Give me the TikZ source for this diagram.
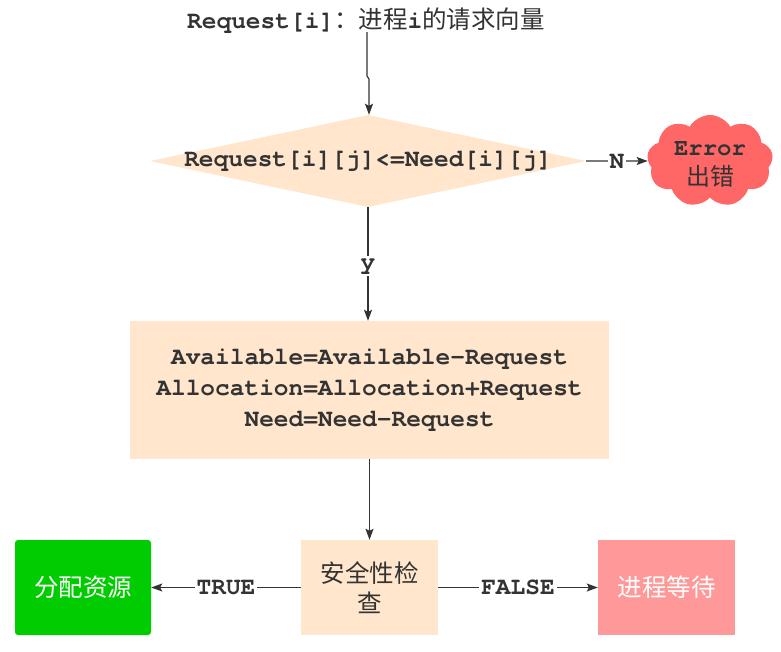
\documentclass[tikz,border=0pt]{standalone}
\usepackage{fontspec}
\setmonofont{texgyrecursor}[Extension=.otf,UprightFont=*-regular,BoldFont=*-bold]
\newfontfamily\cjk{Noto Sans CJK SC}
\usetikzlibrary{shapes.geometric,shapes.symbols,arrows.meta}
\definecolor{peach}{HTML}{FFE6CC}
\definecolor{okgreen}{HTML}{00CC00}
\definecolor{waitpink}{HTML}{FF9999}
\definecolor{errred}{HTML}{FF6666}
\definecolor{ink}{HTML}{333333}
\begin{document}
\begin{tikzpicture}[x=1pt,y=-1pt,
  every node/.style={text=ink},
  mono/.style={font=\fontsize{24.5}{31}\selectfont\ttfamily\bfseries},
  zh/.style={font=\fontsize{24.5}{30}\selectfont\cjk},
  conn/.style={draw=ink,line width=1.2pt},
  arr/.style={conn,-{Stealth[length=11pt,width=8pt,inset=2pt]}},
  lbl/.style={mono,fill=white,inner sep=2pt},
  boxshape/.style={draw=none,inner sep=0pt,align=center}]
\useasboundingbox (0,0) rectangle (781,652);
% title
\node[mono,inner sep=0pt,anchor=center] (title) at (366,21)
  {Request[i]{\cjk\mdseries ：}{\cjk\mdseries 进程}i{\cjk\mdseries 的请求向量}};
% diamond
\node[diamond,fill=peach,inner sep=0pt,minimum width=436,minimum height=92] (dia) at (368,161) {};
\node[mono,inner sep=0pt] (diatext) at (dia.center) {Request[i][j]<=Need[i][j]};
% cloud
\node[cloud,cloud puffs=9,cloud puff arc=120,cloud ignores aspect,fill=errred,
  minimum width=126,minimum height=92,inner sep=0pt] (err) at (710,161) {};
\node[align=center,inner sep=0pt,font=\fontsize{24}{30}\selectfont] (errtext) at (710,164)
  {{\ttfamily\bfseries Error}\\{\cjk 出错}};
% update box
\node[boxshape,fill=peach,minimum width=479,minimum height=138,mono] (upd) at (369.5,390)
  {Available=Available-Request\\Allocation=Allocation+Request\\Need=Need-Request};
% safety check
\node[boxshape,fill=peach,minimum width=137,minimum height=95,zh] (safe) at (369.5,587.5)
  {安全性检\\查};
% allocate
\node[boxshape,fill=okgreen,rounded corners=3pt,minimum width=136,minimum height=95,zh,text=white] (alloc) at (83,587.5)
  {分配资源};
% wait
\node[boxshape,fill=waitpink,minimum width=137,minimum height=95,zh,text=white] (wait) at (666.5,587.5)
  {进程等待};
% connectors
\coordinate (j1) at (367,76);
\coordinate (j2) at (369,79);
\draw[arr] (title.south -| j1) ++(0,-2) -- (j1) -- (j2) -- (dia.north -| j2);
\draw[arr] (dia.east) -- node[lbl,pos=0.5] (nlab) {N} (err.west);
\draw[arr] (dia.south) -- node[lbl,pos=0.52] (ylab) {y} (upd.north -| dia.south);
\draw[arr] (upd.south) -- (safe.north);
\draw[arr] (safe.west) -- node[lbl,pos=0.5] (tlab) {TRUE} (alloc.east);
\draw[arr] (safe.east) -- node[lbl,pos=0.5] (flab) {FALSE} (wait.west);
\end{tikzpicture}
\end{document}
